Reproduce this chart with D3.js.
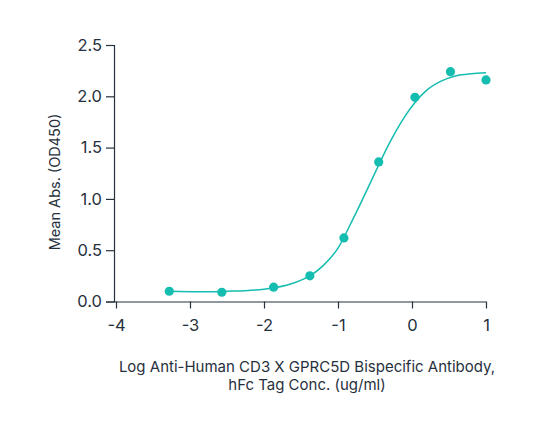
<!DOCTYPE html>
<html>
<head>
<meta charset="utf-8">
<script src="https://cdn.jsdelivr.net/npm/d3@7"></script>
<style>
  body { margin: 0; background: #fff; }
  svg text { font-family: Inter, "Noto Sans", sans-serif; fill: #27313d; }
</style>
</head>
<body>
<div id="chart"></div>
<script>
// measured points (log conc, OD450)
const logConc = [-3.28, -2.57, -1.87, -1.38, -0.92, -0.45, 0.04, 0.52, 1.0];
const meanAbs = [0.10, 0.09, 0.14, 0.25, 0.62, 1.36, 1.99, 2.24, 2.16];

// fitted curve
const fitX = [-3.28, -2.8, -2.5, -2.0, -1.6, -1.38, -1.2, -1.0, -0.8, -0.6, -0.45, -0.3, -0.1, 0.04, 0.2, 0.4, 0.6, 0.8, 1.0];
const fitY = [0.10, 0.095, 0.10, 0.12, 0.18, 0.25, 0.35, 0.52, 0.80, 1.10, 1.33, 1.55, 1.80, 1.94, 2.06, 2.15, 2.20, 2.22, 2.23];

const xTicks = [-4, -3, -2, -1, 0, 1];
const yTicks = [0, 0.5, 1.0, 1.5, 2.0, 2.5];

const teal = "#14bdb0";
const ink = "#27313d";

var svg = d3.select("#chart").append("svg")
  .attr("width", 540)
  .attr("height", 430);

var x = d3.scaleLinear().domain([-4, 1]).range([116, 486]);
var y = d3.scaleLinear().domain([0, 2.5]).range([301.5, 45]);

// y axis
var yAxis = svg.append("g")
  .attr("transform", "translate(114,0)")
  .call(d3.axisLeft(y).tickValues(yTicks).tickFormat(d3.format(".1f")).tickSize(8).tickPadding(4));

// x axis
var xAxis = svg.append("g")
  .attr("transform", "translate(0,301.5)")
  .call(d3.axisBottom(x).tickValues(xTicks).tickFormat(d => d < 0 ? "-" + Math.abs(d) : d).tickSize(7).tickPadding(11));

xAxis.select(".domain").attr("d", "M114,0.5H486");

[xAxis, yAxis].forEach(function(a) {
  a.select(".domain").attr("stroke", ink).attr("stroke-width", 1.2);
  a.selectAll(".tick line").attr("stroke", ink).attr("stroke-width", 1.2);
  a.selectAll(".tick text").style("font-size", "16.5px").attr("fill", ink);
});

// fitted curve
var line = d3.line()
  .x(function(d, i) { return x(fitX[i]); })
  .y(function(d) { return y(d); })
  .curve(d3.curveMonotoneX);

svg.append("path")
  .datum(fitY)
  .attr("d", line)
  .attr("fill", "none")
  .attr("stroke", teal)
  .attr("stroke-width", 1.5);

// points
svg.selectAll(".pt")
  .data(meanAbs)
  .enter()
  .append("circle")
  .classed("pt", true)
  .attr("cx", function(d, i) { return x(logConc[i]); })
  .attr("cy", function(d) { return y(d); })
  .attr("r", 4.6)
  .attr("fill", teal);

// axis titles
svg.append("text")
  .attr("transform", "translate(60,182) rotate(-90)")
  .attr("text-anchor", "middle")
  .style("font-size", "14.5px")
  .text("Mean Abs. (OD450)");

svg.append("text")
  .attr("x", 307)
  .attr("y", 372)
  .attr("text-anchor", "middle")
  .style("font-size", "15px")
  .text("Log Anti-Human CD3 X GPRC5D Bispecific Antibody,");

svg.append("text")
  .attr("x", 307)
  .attr("y", 390)
  .attr("text-anchor", "middle")
  .style("font-size", "15px")
  .text("hFc Tag Conc. (ug/ml)");
</script>
</body>
</html>
